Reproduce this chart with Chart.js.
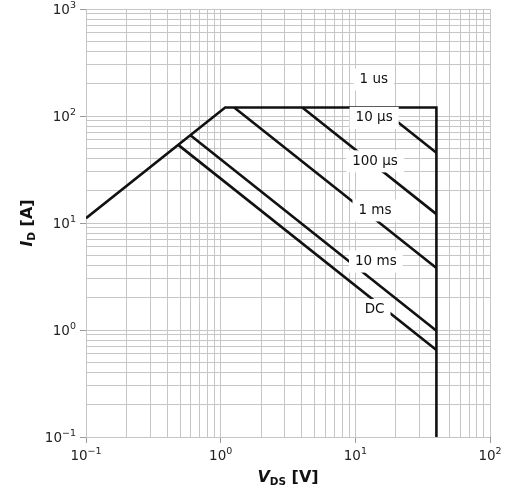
<!DOCTYPE html>
<html>
<head>
<meta charset="utf-8">
<script src="https://cdn.jsdelivr.net/npm/chart.js@4.4.1/dist/chart.umd.min.js"></script>
<style>
  html, body { margin: 0; padding: 0; background: #fff; }
  #wrap { width: 514px; height: 500px; position: relative; }
</style>
</head>
<body>
<div id="wrap"><canvas id="soaChart"></canvas></div>
<script>
// safe operating area: drain current vs drain-source voltage
const limitV = [0.1, 1.08, 40, 40];
const limitI = [11.1, 120, 120, 0.1];
const us10V = [15.1, 40];
const us10I = [120, 45.3];
const us100V = [4.04, 40];
const us100I = [120, 12.1];
const ms1V = [1.26, 40];
const ms1I = [120, 3.79];
const ms10V = [0.596, 40];
const ms10I = [66.1, 0.985];
const dcV = [0.484, 40];
const dcI = [53.7, 0.65];

const lineLabels = ['1 us', '10 µs', '100 µs', '1 ms', '10 ms', 'DC'];
const labelV = [13.7, 13.8, 14.0, 14.0, 14.2, 13.9];
const labelI = [219, 96, 37.7, 13.1, 4.36, 1.54];

// tick labels are written as 10 with a raised exponent
const xDecades = [0.1, 1, 10, 100];
const xDecadeExp = ['−1', '0', '1', '2'];
const yDecades = [0.1, 1, 10, 100, 1000];
const yDecadeExp = ['−1', '0', '1', '2', '3'];
const minorSteps = [1, 2, 3, 4, 5, 6, 7, 8, 9];

const FONT = 'DejaVu Sans';

function logTicks(decades) {
  const out = [];
  decades.slice(0, -1).forEach(d => {
    minorSteps.forEach(m => out.push(+(d * m).toPrecision(6)));
  });
  out.push(decades[decades.length - 1]);
  return out;
}

function isDecade(v) {
  const l = Math.log10(v);
  return Math.abs(l - Math.round(l)) < 1e-6;
}

function toPoints(vs, is) {
  return vs.map((v, k) => ({ x: v, y: is[k] }));
}

function soaLine(label, vs, is) {
  return {
    label: label,
    data: toPoints(vs, is),
    showLine: true,
    borderColor: '#111',
    borderWidth: 2.6,
    pointRadius: 0,
    fill: false,
    tension: 0
  };
}

const xTicks = logTicks(xDecades);
const yTicks = logTicks(yDecades);

function gridFor() {
  return {
    color: '#c6c6c6',
    lineWidth: 1,
    tickLength: 6,
    tickColor: ctx => (ctx.tick && isDecade(ctx.tick.value)) ? '#9a9a9a' : 'rgba(0,0,0,0)'
  };
}

// white-boxed labels sitting on the lines
const lineLabelPlugin = {
  id: 'lineLabels',
  afterDatasetsDraw(chart) {
    const { ctx, scales } = chart;
    ctx.save();
    ctx.font = '13.5px ' + FONT;
    ctx.textAlign = 'center';
    ctx.textBaseline = 'middle';
    lineLabels.forEach((txt, i) => {
      const px = scales.x.getPixelForValue(labelV[i]);
      const py = scales.y.getPixelForValue(labelI[i]);
      const w = ctx.measureText(txt).width + 12;
      const h = 22;
      ctx.fillStyle = '#fff';
      ctx.fillRect(px - w / 2, py - h / 2, w, h);
      ctx.fillStyle = '#111';
      ctx.fillText(txt, px, py);
    });
    ctx.restore();
  }
};

// mixed-font text run, anchored by align ('center' | 'right')
function drawRich(ctx, parts, ax, baseline, align) {
  let total = 0;
  parts.forEach(p => { ctx.font = p.font; p.w = ctx.measureText(p.text).width; total += p.w; });
  let x = align === 'right' ? ax - total : ax - total / 2;
  ctx.textAlign = 'left';
  ctx.textBaseline = 'alphabetic';
  parts.forEach(p => {
    ctx.font = p.font;
    ctx.fillText(p.text, x, baseline + (p.dy || 0));
    x += p.w;
  });
}

function powParts(exp) {
  return [
    { text: '10', font: '13.5px ' + FONT },
    { text: exp, font: '9.5px ' + FONT, dy: -6.5 }
  ];
}

const tickLabelPlugin = {
  id: 'tickLabels',
  afterDraw(chart) {
    const { ctx, scales, chartArea } = chart;
    ctx.save();
    ctx.fillStyle = '#222';
    xDecades.forEach((d, i) => {
      drawRich(ctx, powParts(xDecadeExp[i]), scales.x.getPixelForValue(d), chartArea.bottom + 23, 'center');
    });
    yDecades.forEach((d, i) => {
      drawRich(ctx, powParts(yDecadeExp[i]), chartArea.left - 10, scales.y.getPixelForValue(d) + 5, 'right');
    });
    ctx.restore();
  }
};

const axisTitlePlugin = {
  id: 'axisTitles',
  afterDraw(chart) {
    const { ctx, chartArea } = chart;
    ctx.save();
    ctx.fillStyle = '#111';
    const cx = (chartArea.left + chartArea.right) / 2;
    drawRich(ctx, [
      { text: 'V', font: 'italic bold 16px ' + FONT },
      { text: 'DS', font: 'bold 10.5px ' + FONT, dy: 3 },
      { text: ' [V]', font: 'bold 16px ' + FONT }
    ], cx, 482, 'center');
    const cy = (chartArea.top + chartArea.bottom) / 2;
    ctx.translate(32, cy);
    ctx.rotate(-Math.PI / 2);
    drawRich(ctx, [
      { text: 'I', font: 'italic bold 16px ' + FONT },
      { text: 'D', font: 'bold 10.5px ' + FONT, dy: 3 },
      { text: ' [A]', font: 'bold 16px ' + FONT }
    ], 0, 0, 'center');
    ctx.restore();
  }
};

const ctx1 = document.getElementById('soaChart');

new Chart(ctx1, {
  type: 'scatter',
  data: {
    datasets: [
      soaLine('1 us', limitV, limitI),
      soaLine('10 µs', us10V, us10I),
      soaLine('100 µs', us100V, us100I),
      soaLine('1 ms', ms1V, ms1I),
      soaLine('10 ms', ms10V, ms10I),
      soaLine('DC', dcV, dcI)
    ]
  },
  options: {
    responsive: true,
    maintainAspectRatio: false,
    animation: false,
    layout: { padding: { top: 9, right: 24, left: 0, bottom: 0 } },
    plugins: {
      legend: { display: false },
      tooltip: { enabled: false }
    },
    scales: {
      x: {
        type: 'logarithmic',
        position: 'bottom',
        min: 0.1,
        max: 100,
        afterBuildTicks: s => { s.ticks = xTicks.map(v => ({ value: v })); },
        afterFit: s => { s.height = 63; },
        grid: gridFor(),
        border: { display: false },
        ticks: { display: false, autoSkip: false }
      },
      y: {
        type: 'logarithmic',
        min: 0.1,
        max: 1000,
        afterBuildTicks: s => { s.ticks = yTicks.map(v => ({ value: v })); },
        afterFit: s => { s.width = 86; },
        grid: gridFor(),
        border: { display: false },
        ticks: { display: false, autoSkip: false }
      }
    }
  },
  plugins: [lineLabelPlugin, tickLabelPlugin, axisTitlePlugin]
});
</script>
</body>
</html>
